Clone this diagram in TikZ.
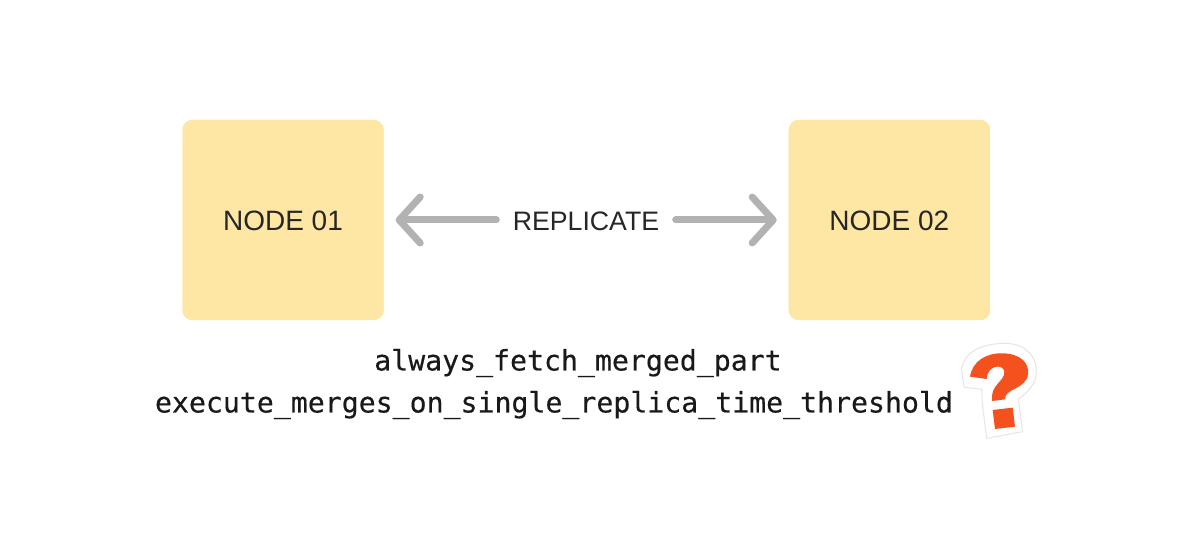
\documentclass[tikz,border=0pt]{standalone}
\usepackage{fontspec}
\setmainfont{Liberation Sans}
\newfontfamily\codefont[FakeBold=0.35]{DejaVu Sans Mono}
\usepackage{xcolor}
\usetikzlibrary{arrows.meta,positioning}
\definecolor{boxfill}{HTML}{FEE7A4}
\definecolor{boxline}{HTML}{FCE49B}
\definecolor{arrowgray}{HTML}{B2B2B2}
\definecolor{inkdark}{HTML}{262626}
\definecolor{markorange}{HTML}{F4511E}
\tikzset{
	server/.style={draw=boxline,fill=boxfill,rounded corners=10pt,minimum width=201pt,minimum height=200pt,inner sep=0pt,text=inkdark,text height=21.5pt,text depth=0pt,font=\fontsize{28}{32}\selectfont},
	linktext/.style={inner sep=0pt,minimum width=179pt,minimum height=30pt,text=inkdark,text height=21.5pt,text depth=0pt,font=\fontsize{26.7}{32}\selectfont},
	setting/.style={inner sep=0pt,text=black!90,font=\codefont\fontsize{28.2}{34}\selectfont},
	link/.style={draw=arrowgray,line width=7pt,line cap=round,-{Straight Barb[length=21pt,width=46pt,round,line width=7pt]},shorten >=12pt}
}
\begin{document}
\begin{tikzpicture}[x=1pt,y=-1pt,node distance=1cm]
	\useasboundingbox (0,0) rectangle (1200,534);
	\node[server] (node01) at (283,220) {NODE 01};
	\node[server] (node02) [right=405pt of node01] {NODE 02};
	\node[linktext] (replicate) at (586,220) {REPLICATE};
	\draw[link] (replicate) -- (node01);
	\draw[link] (replicate) -- (node02);

	\node[setting] (fetchpart) at (578,363) {always\_fetch\_merged\_part};
	\node[setting] (mergetime) at (554,405) {execute\_merges\_on\_single\_replica\_time\_threshold};

	% sticker with the question mark
	\begin{scope}[shift={(940,330)},x=0.3333pt,y=-0.3333pt]
		\draw[fill=white,draw=black!10,line width=1pt,line join=round] (65,120) .. controls (70,65) and (125,42) .. (190,40) .. controls (260,38) and (295,85) .. (288,135) .. controls (283,175) and (250,195) .. (235,208) -- (248,305) -- (140,325) -- (127,222) -- (125,178) -- (72,172) -- cycle;
		\fill[markorange] (90,140) .. controls (98,92) and (140,68) .. (190,70) .. controls (243,72) and (268,100) .. (264,132) .. controls (260,178) and (192,175) .. (195,208) -- (157,213) .. controls (148,165) and (195,155) .. (193,125) .. controls (191,102) and (143,102) .. (140,147) -- cycle;
		\fill[markorange] (158,240) -- (218,233) -- (225,290) -- (165,297) -- cycle;
	\end{scope}
\end{tikzpicture}
\end{document}
